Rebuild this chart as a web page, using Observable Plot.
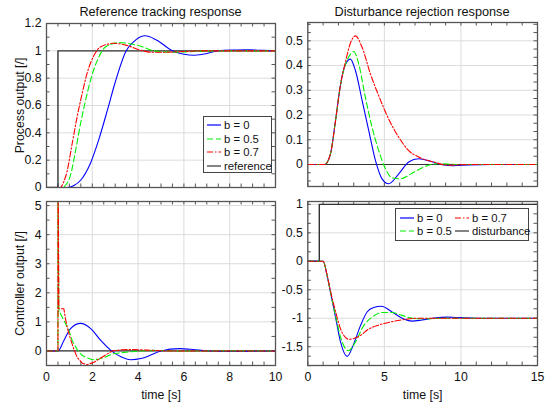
<!DOCTYPE html>
<html><head><meta charset="utf-8">
<script src="https://cdn.jsdelivr.net/npm/d3@7"></script>
<script src="https://cdn.jsdelivr.net/npm/@observablehq/plot@0.6"></script>
<style>
html,body{margin:0;padding:0;background:#fff;}
#wrap{position:relative;width:550px;height:405px;overflow:hidden;font-family:"Liberation Sans",Arial,sans-serif;color:#111;}
#wrap svg{position:absolute;overflow:visible;}
.title{position:absolute;font-size:12.7px;text-align:center;white-space:nowrap;}
.legend{position:absolute;background:#fff;border:1px solid #444;font-size:11.3px;box-sizing:border-box;}
.legend .row{position:absolute;display:flex;align-items:center;white-space:nowrap;}
.legend svg{position:static !important;margin-right:3px;}
</style></head>
<body><div id="wrap"></div>
<script>
// ---------- Reference tracking: process output ----------
const trkRefT = [0, 0.5, 0.5, 10];
const trkRefY = [0, 0, 1, 1];
const trkB0T = [0, 0.9, 1.2, 1.5, 1.9, 2.3, 2.65, 3.0, 3.45, 3.9, 4.3, 4.8, 5.5, 6.0, 6.45, 7.0, 7.45, 8.1, 8.8, 9.5, 10];
const trkB0Y = [0, 0, 0.015, 0.055, 0.17, 0.36, 0.56, 0.77, 0.99, 1.08, 1.11, 1.08, 1.0, 0.975, 0.968, 0.98, 1.0, 1.006, 1.007, 1.003, 1.0];
const trkB05T = [0, 0.7, 0.85, 1.05, 1.27, 1.49, 1.71, 1.93, 2.22, 2.59, 3.2, 3.7, 4.1, 4.7, 5.5, 6.5, 8, 10];
const trkB05Y = [0, 0, 0.02, 0.09, 0.27, 0.47, 0.64, 0.79, 0.93, 1.03, 1.06, 1.05, 1.035, 1.0, 0.99, 0.995, 1.0, 1.0];
const trkB07T = [0, 0.6, 0.75, 0.9, 1.12, 1.34, 1.56, 1.78, 2.07, 2.37, 2.95, 3.5, 4.1, 4.6, 5.2, 6, 7, 8, 10];
const trkB07Y = [0, 0, 0.04, 0.12, 0.32, 0.52, 0.69, 0.84, 0.965, 1.03, 1.055, 1.04, 1.005, 0.99, 0.99, 0.995, 1.0, 1.0, 1.0];

// ---------- Reference tracking: controller output ----------
const ctlB0T = [0, 0.5, 0.76, 1.05, 1.49, 1.93, 2.37, 2.81, 3.25, 3.68, 4.12, 4.56, 5.0, 5.8, 6.4, 7.0, 8.3, 9.2, 10];
const ctlB0Y = [0, 0, 0.36, 0.77, 0.95, 0.77, 0.36, 0.02, -0.2, -0.3, -0.26, -0.14, 0, 0.08, 0.05, 0, -0.02, -0.01, 0];
const ctlB05T = [0, 0.5, 0.5, 0.54, 0.6, 0.83, 0.98, 1.12, 1.34, 1.56, 1.78, 2.0, 2.3, 2.6, 2.88, 3.25, 3.68, 4.1, 4.7, 5.5, 10];
const ctlB05Y = [0, 0, 6, 1.3, 1.3, 0.94, 0.7, 0.36, 0.05, -0.16, -0.24, -0.3, -0.28, -0.2, -0.1, -0.06, -0.03, 0, 0.02, 0, 0];
const ctlB07T = [0, 0.5, 0.5, 0.54, 0.76, 0.83, 0.9, 1.05, 1.19, 1.34, 1.56, 1.78, 2.07, 2.37, 2.66, 2.88, 3.3, 3.8, 4.4, 5.2, 10];
const ctlB07Y = [0, 0, 8, 1.45, 1.45, 1.1, 0.82, 0.41, 0.07, -0.22, -0.42, -0.47, -0.39, -0.24, -0.1, 0, 0.04, 0.05, 0.03, 0, 0];
const ctlZeroT = [0, 10];
const ctlZeroY = [0, 0];

// ---------- Disturbance rejection: process output ----------
const dstRefT = [0, 15];
const dstRefY = [0, 0];
const dstB0T = [0, 1.1, 1.48, 1.81, 2.13, 2.46, 2.78, 3.11, 3.55, 3.98, 4.42, 4.85, 5.28, 5.94, 6.59, 7.24, 8.0, 8.7, 9.5, 10.5, 12, 15];
const dstB0Y = [0, 0, 0.043, 0.177, 0.32, 0.405, 0.426, 0.38, 0.258, 0.137, 0.016, -0.058, -0.078, -0.038, 0.01, 0.023, 0.013, 0.0, -0.005, -0.002, 0, 0];
const dstB05T = [0, 1.1, 1.48, 1.81, 2.13, 2.46, 2.78, 3.0, 3.33, 3.76, 4.2, 4.63, 5.07, 5.5, 6.05, 6.81, 7.57, 8.5, 10, 15];
const dstB05Y = [0, 0, 0.043, 0.177, 0.32, 0.405, 0.445, 0.457, 0.405, 0.271, 0.15, 0.056, -0.017, -0.054, -0.058, -0.035, -0.01, 0.003, 0, 0];
const dstB07T = [0, 1.1, 1.48, 1.81, 2.13, 2.46, 2.78, 3.11, 3.55, 4.09, 4.63, 5.28, 5.94, 6.59, 7.24, 8.22, 9.2, 10.5, 15];
const dstB07Y = [0, 0, 0.043, 0.177, 0.32, 0.415, 0.49, 0.52, 0.473, 0.366, 0.278, 0.184, 0.11, 0.056, 0.03, 0.01, -0.003, 0, 0];

// ---------- Disturbance rejection: controller output ----------
const disT = [0, 0.75, 0.75, 15];
const disY = [0, 0, 1, 1];
const dcB0T = [0, 1.0, 1.26, 1.48, 1.81, 2.14, 2.57, 3.0, 3.44, 3.87, 4.3, 4.81, 5.5, 6.16, 6.81, 7.46, 8.2, 9.1, 10, 11, 15];
const dcB0Y = [0, 0, -0.25, -0.54, -0.98, -1.42, -1.67, -1.45, -1.13, -0.89, -0.81, -0.79, -0.89, -1.0, -1.05, -1.03, -1.0, -0.98, -0.99, -1.0, -1.0];
const dcB05T = [0, 1.0, 1.26, 1.48, 1.81, 2.14, 2.64, 3.11, 3.65, 4.2, 4.85, 5.5, 6.16, 6.81, 7.5, 9, 15];
const dcB05Y = [0, 0, -0.25, -0.54, -0.95, -1.33, -1.57, -1.42, -1.13, -0.98, -0.9, -0.9, -0.95, -1.0, -1.01, -1.0, -1.0];
const dcB07T = [0, 1.0, 1.26, 1.48, 1.81, 2.14, 2.68, 3.33, 3.98, 4.63, 5.5, 6.37, 7.2, 9, 15];
const dcB07Y = [0, 0, -0.24, -0.52, -0.88, -1.19, -1.37, -1.32, -1.19, -1.12, -1.06, -1.02, -1.0, -1.0, -1.0];

// ---------- ticks & labels ----------
const xTicksL = [0, 2, 4, 6, 8, 10];
const xTicksR = [0, 5, 10, 15];
const yTicksTL = [0, 0.2, 0.4, 0.6, 0.8, 1, 1.2];
const yTicksTR = [0, 0.1, 0.2, 0.3, 0.4, 0.5];
const yTicksBL = [0, 1, 2, 3, 4, 5];
const yTicksBR = [-1.5, -1, -0.5, 0, 0.5, 1];
const titles = ["Reference tracking response", "Disturbance rejection response"];
const yLabels = ["Process output [/]", "Controller output [/]"];
const xLabel = "time [s]";
const legendNames = ["b = 0", "b = 0.5", "b = 0.7"];

const COL = {b0: "#0000ff", b05: "#00ee00", b07: "#ff0000", ref: "#333333"};
const DASH = {b0: null, b05: "6,3", b07: "6,2,1.5,2"};

const rows = (t, y) => t.map((v, i) => ({t: v, y: y[i]}));
const wrap = document.getElementById("wrap");

function panel({left, top, width, height, mL, mT, mR, mB, xDom, yDom, xTicks, yTicks, showX, ylabel, series, minorX, minorY}) {
  const xs = (xDom[1] - xDom[0]) / (width - mL - mR);
  const ys = (yDom[1] - yDom[0]) / (height - mT - mB);
  const tlx = 3.5 * ys, tly = 3.5 * xs;
  const marks = [
    Plot.gridX(xTicks, {stroke: "#dcdcdc", strokeOpacity: 1}),
    Plot.gridY(yTicks, {stroke: "#dcdcdc", strokeOpacity: 1}),
    Plot.ruleX(minorX, {x: d => d, y1: yDom[0], y2: yDom[0] + tlx, stroke: "#555"}),
    Plot.ruleX(minorX, {x: d => d, y1: yDom[1], y2: yDom[1] - tlx, stroke: "#555"}),
    Plot.ruleY(minorY, {y: d => d, x1: xDom[0], x2: xDom[0] + tly, stroke: "#555"}),
    Plot.ruleY(minorY, {y: d => d, x1: xDom[1], x2: xDom[1] - tly, stroke: "#555"}),
    Plot.axisY(yTicks, {tickSize: 0, tickPadding: 5, fontSize: 12.3, label: ylabel, labelAnchor: "center", labelArrow: "none", labelOffset: 31, tickFormat: d => String(d)}),
    showX
      ? Plot.axisX(xTicks, {tickSize: 0, tickPadding: 7, fontSize: 12.3, label: xLabel, labelAnchor: "center", labelArrow: "none", labelOffset: 33})
      : Plot.axisX([], {label: null}),
  ];
  for (const s of series) {
    marks.push(Plot.line(rows(s.t, s.y), {x: "t", y: "y", stroke: s.color, strokeWidth: s.w || 1.1,
      strokeDasharray: s.dash, curve: s.curve || "monotone-x", clip: true}));
  }
  marks.push(Plot.frame({stroke: "#555", strokeWidth: 1.3}));
  const svg = Plot.plot({
    width, height, marginLeft: mL, marginTop: mT, marginRight: mR, marginBottom: mB,
    x: {domain: xDom}, y: {domain: yDom},
    style: {fontFamily: "Liberation Sans, Arial, sans-serif", fontSize: "13px", color: "#111", background: "transparent"},
    marks
  });
  svg.style.left = left + "px";
  svg.style.top = top + "px";
  wrap.appendChild(svg);
}

// top-left
panel({left: 0, top: 0, width: 280, height: 200, mL: 46, mT: 23, mR: 5, mB: 13,
  xDom: [0, 10], yDom: [0, 1.2], xTicks: xTicksL, yTicks: yTicksTL, showX: false, ylabel: yLabels[0],
  minorX: d3.range(0, 10.01, 0.5), minorY: d3.range(0, 1.201, 0.1),
  series: [
    {t: trkRefT, y: trkRefY, color: COL.ref, curve: "linear", w: 1.4},
    {t: trkB0T, y: trkB0Y, color: COL.b0},
    {t: trkB05T, y: trkB05Y, color: COL.b05, dash: DASH.b05},
    {t: trkB07T, y: trkB07Y, color: COL.b07, dash: DASH.b07},
  ]});
// top-right
panel({left: 260, top: 0, width: 290, height: 200, mL: 47.3, mT: 22, mR: 13, mB: 14,
  xDom: [0, 15], yDom: [-0.089, 0.574], xTicks: xTicksR, yTicks: yTicksTR, showX: false, ylabel: null,
  minorX: d3.range(0, 15.01, 1), minorY: d3.range(-0.0667, 0.57, 0.1 / 3),
  series: [
    {t: dstRefT, y: dstRefY, color: COL.ref, curve: "linear", w: 1.2},
    {t: dstB0T, y: dstB0Y, color: COL.b0},
    {t: dstB05T, y: dstB05Y, color: COL.b05, dash: DASH.b05},
    {t: dstB07T, y: dstB07Y, color: COL.b07, dash: DASH.b07},
  ]});
// bottom-left
panel({left: 0, top: 195, width: 280, height: 210, mL: 46, mT: 6, mR: 5, mB: 40,
  xDom: [0, 10], yDom: [-0.5, 5.14], xTicks: xTicksL, yTicks: yTicksBL, showX: true, ylabel: yLabels[1],
  minorX: d3.range(0, 10.01, 0.5), minorY: d3.range(-0.5, 5.1, 0.5),
  series: [
    {t: ctlZeroT, y: ctlZeroY, color: COL.ref, curve: "linear", w: 1.2},
    {t: ctlB0T, y: ctlB0Y, color: COL.b0},
    {t: ctlB05T, y: ctlB05Y, color: COL.b05, dash: DASH.b05, curve: "linear"},
    {t: ctlB07T, y: ctlB07Y, color: COL.b07, dash: DASH.b07, curve: "linear"},
  ]});
// bottom-right
panel({left: 260, top: 195, width: 290, height: 210, mL: 47.3, mT: 6, mR: 13, mB: 40,
  xDom: [0, 15], yDom: [-1.83, 1.05], xTicks: xTicksR, yTicks: yTicksBR, showX: true, ylabel: null,
  minorX: d3.range(0, 15.01, 1), minorY: d3.range(-1.8333, 1.05, 1 / 6),
  series: [
    {t: disT, y: disY, color: COL.ref, curve: "linear", w: 1.4},
    {t: dcB0T, y: dcB0Y, color: COL.b0},
    {t: dcB05T, y: dcB05Y, color: COL.b05, dash: DASH.b05},
    {t: dcB07T, y: dcB07Y, color: COL.b07, dash: DASH.b07},
  ]});

// titles
[[titles[0], 160.5], [titles[1], 422]].forEach(([txt, cx]) => {
  const d = document.createElement("div");
  d.className = "title"; d.textContent = txt;
  d.style.left = (cx - 100) + "px"; d.style.width = "200px"; d.style.top = "5px";
  wrap.appendChild(d);
});

function sample(color, dash) {
  return `<svg width="14" height="6"><line x1="0" y1="3" x2="14" y2="3" stroke="${color}" stroke-width="1.2" ${dash ? `stroke-dasharray="${dash}"` : ""}/></svg>`;
}
function legend(box, items) {
  const d = document.createElement("div");
  d.className = "legend";
  Object.assign(d.style, {left: box.x + "px", top: box.y + "px", width: box.w + "px", height: box.h + "px"});
  for (const it of items) {
    const r = document.createElement("div");
    r.className = "row";
    r.style.left = it.x + "px"; r.style.top = it.y + "px";
    r.innerHTML = sample(it.color, it.dash) + `<span>${it.label}</span>`;
    d.appendChild(r);
  }
  wrap.appendChild(d);
}
legend({x: 203, y: 116, w: 69, h: 57}, [
  {label: legendNames[0], color: COL.b0, dash: DASH.b0, x: 3, y: 2},
  {label: legendNames[1], color: COL.b05, dash: DASH.b05, x: 3, y: 15.5},
  {label: legendNames[2], color: COL.b07, dash: DASH.b07, x: 3, y: 29},
  {label: "reference", color: COL.ref, dash: null, x: 3, y: 42.5},
]);
legend({x: 395, y: 208, w: 134, h: 33}, [
  {label: legendNames[0], color: COL.b0, dash: DASH.b0, x: 4, y: 3},
  {label: legendNames[1], color: COL.b05, dash: DASH.b05, x: 4, y: 16},
  {label: legendNames[2], color: COL.b07, dash: DASH.b07, x: 59, y: 3},
  {label: "disturbance", color: COL.ref, dash: null, x: 59, y: 16},
]);
</script></body></html>
